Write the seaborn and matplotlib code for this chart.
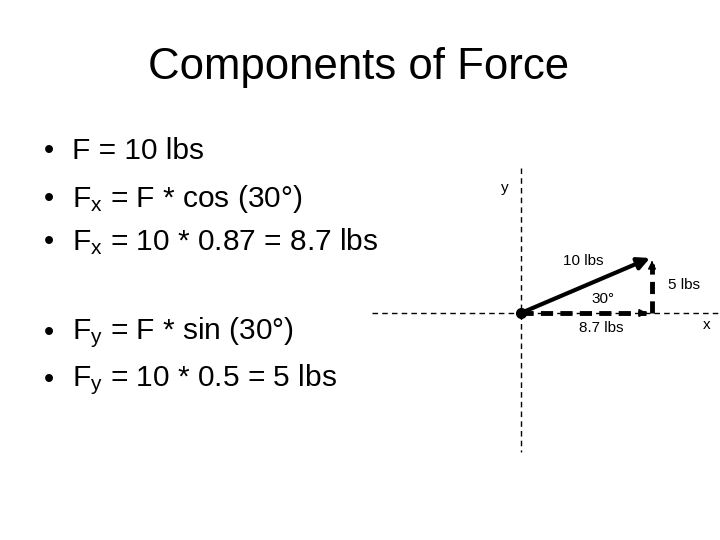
import numpy as np
import pandas as pd
import matplotlib
matplotlib.use("Agg")
import matplotlib.pyplot as plt
import seaborn as sns

# force data
force = 10.0
angle_deg = 30
fx = 8.7
fy = 5.0
bullets = ["F = 10 lbs", "F$_x$ = F * cos (30°)", "F$_x$ = 10 * 0.87 = 8.7 lbs",
           "F$_y$ = F * sin (30°)", "F$_y$ = 10 * 0.5 = 5 lbs"]

sns.set_theme(style="white")
plt.rcParams['font.family'] = ['Liberation Sans', 'DejaVu Sans']
plt.rcParams['text.color'] = 'black'
plt.rcParams['mathtext.fontset'] = 'custom'
plt.rcParams['mathtext.rm'] = 'Liberation Sans'
plt.rcParams['mathtext.default'] = 'regular'

fig = plt.figure(figsize=(7.2, 5.4), dpi=100)
ax = fig.add_axes([0, 0, 1, 1])
ax.set_xlim(0, 720)
ax.set_ylim(540, 0)
ax.axis('off')

ax.text(359, 68, "Components of Force", ha='center', va='center', fontsize=31.5)

bullet_y = [151, 199, 242, 333, 380]
for txt, yy in zip(bullets, bullet_y):
    ax.text(44, yy, "•", ha='left', va='center', fontsize=21)
    ax.text(72, yy, txt, ha='left', va='center', fontsize=21.5)

# diagram in pixel space: origin and scale per lb
ox, oy = 521, 313
sx, sy = 129 / fx, 55 / fy
tipx, tipy = ox + fx * sx, oy - fy * sy

# axes (dashed)
ax.plot([372, 720], [oy, oy], ls=(0, (4, 3)), color='black', lw=1)
ax.plot([ox, ox], [168, 452], ls=(0, (4, 3)), color='black', lw=1)

# components
comp = pd.DataFrame({"x": [ox, tipx - 4], "y": [oy, oy]})
sns.lineplot(data=comp, x="x", y="y", ax=ax, color='black', lw=3.5,
             linestyle=(0, (2.5, 1.5)), legend=False, estimator=None)
ax.annotate("", xy=(tipx, oy), xytext=(tipx - 8, oy),
            arrowprops=dict(arrowstyle='-|>', color='black', lw=1, mutation_scale=12))
ax.plot([tipx + 2, tipx + 2], [oy, tipy + 6], color='black', lw=3.5,
        linestyle=(0, (2.5, 1.5)))
ax.annotate("", xy=(tipx + 2, tipy), xytext=(tipx + 2, tipy + 8),
            arrowprops=dict(arrowstyle='-|>', color='black', lw=1, mutation_scale=12))

# resultant force
ax.annotate("", xy=(tipx, tipy), xytext=(ox, oy),
            arrowprops=dict(arrowstyle='-|>', color='black', lw=3, mutation_scale=18,
                            shrinkA=0, shrinkB=0))
ax.plot([ox], [oy], 'o', color='black', ms=7)

ax.set_xlabel("")
ax.set_ylabel("")

ax.text(505, 188, "y", ha='center', va='center', fontsize=11)
ax.text(707, 325, "x", ha='center', va='center', fontsize=11)
ax.text(583, 261, f"{force:g} lbs", ha='center', va='center', fontsize=11)
ax.text(603, 299, f"{angle_deg}°", ha='center', va='center', fontsize=11)
ax.text(684, 285, f"{fy:g} lbs", ha='center', va='center', fontsize=11)
ax.text(601, 328, f"{fx:g} lbs", ha='center', va='center', fontsize=11)

fig.savefig("out.png", dpi=100, facecolor='white')
